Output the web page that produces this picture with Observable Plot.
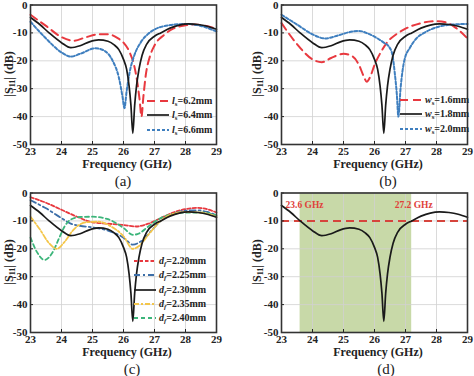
<!DOCTYPE html>
<html><head><meta charset="utf-8">
<script src="https://cdn.jsdelivr.net/npm/d3@7"></script>
<script src="https://cdn.jsdelivr.net/npm/@observablehq/plot@0.6"></script>
<style>
body{margin:0;background:#fff}
#wrap{position:relative;width:474px;height:376px;overflow:hidden;font-family:"Liberation Serif","Times New Roman",serif;color:#222}
.abs{position:absolute;white-space:nowrap;line-height:1}
.c{transform:translate(-50%,-50%)}
.yl{transform:translate(-50%,-50%) rotate(-90deg);font-weight:bold;font-size:12px}
.xl{font-weight:bold;font-size:12px}
.let{font-size:15px}
.leg{font-weight:bold;font-size:10px;display:flex;align-items:center;height:14px}
.leg svg{display:block;margin-right:3px}
sub{font-size:0.68em;vertical-align:-0.25em;line-height:0}
</style></head>
<body><div id="wrap"></div>
<script>
// axis ticks
const freqTicks = [23, 24, 25, 26, 27, 28, 29];
const dbTicks = [0, -10, -20, -30, -40, -50];

// reference curve (ls=6.4mm, ws=1.8mm, df=2.30mm, panel d)
const baseF = [23, 23.3, 23.6, 24, 24.3, 24.6, 24.9, 25.2, 25.5, 25.7, 25.85, 26.0, 26.1, 26.18, 26.24, 26.3, 26.36, 26.42, 26.5, 26.6, 26.75, 27.0, 27.2, 27.5, 27.8, 28.1, 28.4, 28.7, 29];
const baseS = [-4.5, -7, -10, -13.5, -15.3, -14.6, -13.2, -12.5, -13, -14.3, -16, -19.5, -23, -29, -36, -46, -36, -29, -23, -18, -14, -11.2, -10, -8.3, -7.2, -6.8, -7, -7.6, -8.7];

// (a) ls = 6.2 mm
const ls62F = [23, 23.5, 24, 24.4, 24.8, 25.2, 25.5, 25.8, 26.0, 26.2, 26.35, 26.45, 26.52, 26.58, 26.64, 26.72, 26.85, 27.0, 27.3, 27.6, 28, 28.3, 28.6, 29];
const ls62S = [-3.5, -7.5, -11.5, -12.8, -11.5, -10.5, -10.5, -11.8, -13.5, -17, -22, -28, -34, -40, -33, -25, -18.5, -14.5, -10.8, -8.5, -7.3, -7, -7.4, -8.5];
// (a) ls = 6.6 mm
const ls66F = [23, 23.5, 24, 24.3, 24.6, 25.1, 25.4, 25.65, 25.85, 25.97, 26.03, 26.1, 26.2, 26.35, 26.55, 26.8, 27.0, 27.5, 28, 28.5, 29];
const ls66S = [-6, -12, -17, -18.5, -17.5, -15.5, -16.5, -20, -26, -33, -37, -31, -24, -18, -13.5, -10.3, -8.8, -7.2, -6.8, -7.5, -9.5];

// (b) ws = 1.6 mm
const ws16F = [23, 23.5, 24, 24.3, 24.6, 25.0, 25.3, 25.5, 25.65, 25.75, 25.85, 26.0, 26.2, 26.4, 26.7, 27.0, 27.5, 28.0, 28.3, 28.6, 29];
const ws16S = [-6.5, -14, -19.5, -20.5, -19, -17.5, -18.5, -21.5, -25.5, -27.5, -26, -21.5, -17, -13.5, -10.5, -8.5, -6.5, -5.8, -6.2, -8, -12];
// (b) ws = 2.0 mm
const ws20F = [23, 23.5, 24, 24.4, 24.8, 25.2, 25.5, 25.8, 26.1, 26.3, 26.47, 26.58, 26.65, 26.72, 26.77, 26.84, 26.96, 27.16, 27.35, 27.6, 28, 28.5, 29];
const ws20S = [-3.5, -7, -10.5, -12, -11, -9.7, -9.3, -10.3, -12, -13.5, -15, -18, -24, -32, -40, -30, -20, -15, -12, -10, -8, -7, -6.8];

// (c) df = 2.20 mm
const df220F = [23, 23.5, 24, 24.5, 25, 25.5, 26, 26.4, 26.8, 27.2, 27.6, 28, 28.4, 28.7, 29];
const df220S = [-1.5, -3.5, -6, -8.5, -10.5, -11, -11.5, -12, -11, -9, -7, -5.8, -5.3, -5.8, -7];
// (c) df = 2.25 mm
const df225F = [23, 23.5, 24, 24.3, 24.6, 25, 25.5, 26, 26.3, 26.6, 26.9, 27.2, 27.6, 28, 28.4, 28.7, 29];
const df225S = [-2.6, -5.5, -9, -11, -11.8, -12.3, -13.5, -16, -18.5, -17, -13.5, -10, -7.5, -6.3, -6.2, -6.8, -8];
// (c) df = 2.35 mm
const df235F = [23, 23.3, 23.6, 23.85, 24.1, 24.4, 24.8, 25.2, 25.6, 26, 26.3, 26.5, 26.8, 27.2, 27.6, 28, 28.5, 29];
const df235S = [-8.5, -13, -18, -20, -17.5, -13, -10.5, -10.3, -12, -15.5, -20, -19, -15, -10, -7.5, -6.8, -7, -8.5];
// (c) df = 2.40 mm
const df240F = [23, 23.2, 23.45, 23.7, 23.93, 24.1, 24.3, 24.6, 25.0, 25.5, 26.0, 26.3, 26.5, 26.8, 27.2, 27.6, 28, 28.5, 29];
const df240S = [-16, -21, -24, -21.5, -16, -12, -9.5, -8.6, -8.5, -9.4, -12.5, -15, -14.5, -12, -9, -7.5, -7, -7, -8];

// (d) band and threshold
const bandEdges = [23.6, 27.2];
const threshold = [-10];

// legend labels
const lsLabels = ["6.2mm", "6.4mm", "6.6mm"];
const wsLabels = ["1.6mm", "1.8mm", "2.0mm"];
const dfLabels = ["2.20mm", "2.25mm", "2.30mm", "2.35mm", "2.40mm"];

const zip = (F, S) => F.map((f, i) => ({f, s: S[i]}));
const RED = "#e8393f", BLUE = "#3f7fbf", BLACK = "#1a1a1a";

const st = {
  red: {stroke: RED, w: 2, dash: "8,5"},
  black: {stroke: BLACK, w: 1.7, dash: null},
  blueDot: {stroke: BLUE, w: 2, dash: "3,2"},
  redShort: {stroke: RED, w: 1.8, dash: "3.5,2"},
  blueDD: {stroke: "#3c6ea8", w: 1.8, dash: "6,3,2,3"},
  yellowDD: {stroke: "#f4c64a", w: 1.8, dash: "5,2,2,2"},
  green: {stroke: "#3cb57a", w: 1.8, dash: "4,3"}
};

const panels = [
  {left: 0, top: 0, mL: 30, mR: 21, letter: "(a)", ylx: 8.5, xlx: 127, letx: 123,
   series: [[ls62F, ls62S, st.red], [ls66F, ls66S, st.blueDot], [baseF, baseS, st.black]],
   legend: {x: 147, y0: 94, sym: "l", sub: "s", labels: lsLabels, styles: [st.red, st.black, st.blueDot]}},
  {left: 237, top: 0, mL: 44, mR: 7, letter: "(b)", ylx: 20, xlx: 141, letx: 151,
   series: [[ws16F, ws16S, st.red], [ws20F, ws20S, st.blueDot], [baseF, baseS, st.black]],
   legend: {x: 163, y0: 93, sym: "w", sub: "s", labels: wsLabels, styles: [st.red, st.black, st.blueDot]}},
  {left: 0, top: 188, mL: 30, mR: 21, letter: "(c)", ylx: 8.5, xlx: 127, letx: 132,
   series: [[df220F, df220S, st.redShort], [df225F, df225S, st.blueDD], [df240F, df240S, st.green], [df235F, df235S, st.yellowDD], [baseF, baseS, st.black]],
   legend: {x: 134, y0: 66, sym: "d", sub: "f", subItalic: true, labels: dfLabels, styles: [st.redShort, st.blueDD, st.black, st.yellowDD, st.green]}},
  {left: 237, top: 188, mL: 44, mR: 7, letter: "(d)", ylx: 20, xlx: 141, letx: 149, band: true,
   series: [[baseF, baseS, st.black]]}
];

const wrap = document.getElementById("wrap");
function addDiv(cls, x, y, html) {
  const d = document.createElement("div");
  d.className = "abs " + cls;
  d.style.left = x + "px"; d.style.top = y + "px";
  d.innerHTML = html;
  wrap.appendChild(d);
  return d;
}

for (const p of panels) {
  const marks = [];
  if (p.band) {
    marks.push(Plot.rect([bandEdges], {x1: d => d[0], x2: d => d[1], y1: dbTicks[dbTicks.length - 1], y2: dbTicks[0], fill: "#c8d9a8"}));
  }
  marks.push(Plot.gridX(freqTicks, {stroke: "#d0d0d0", strokeOpacity: 1, strokeWidth: 0.8}));
  marks.push(Plot.gridY(dbTicks, {stroke: "#d0d0d0", strokeOpacity: 1, strokeWidth: 0.8}));
  if (p.band) {
    marks.push(Plot.ruleY(threshold, {stroke: "#d6443c", strokeWidth: 2, strokeDasharray: "8,5"}));
  }
  for (const [F, S, s] of p.series) {
    marks.push(Plot.line(zip(F, S), {x: "f", y: "s", stroke: s.stroke, strokeWidth: s.w, strokeDasharray: s.dash, curve: "monotone-x"}));
  }
  if (p.band) {
    marks.push(Plot.text(bandEdges.slice(0, 1), {frameAnchor: "top-left", dx: 4, dy: 8, text: d => `${d} GHz`, fill: "#e0403a", fontWeight: "bold", fontSize: 9.5}));
    marks.push(Plot.text(bandEdges.slice(1), {x: d => d, frameAnchor: "top", dx: 2, dy: 8, text: d => `${d} GHz`, fill: "#e0403a", fontWeight: "bold", fontSize: 9.5}));
  }
  marks.push(Plot.axisX(freqTicks, {tickSize: -3, tickPadding: 6, label: null, tickFormat: d => String(d)}));
  marks.push(Plot.axisY(dbTicks, {tickSize: -3, tickPadding: 6, label: null, tickFormat: d => String(d)}));
  marks.push(Plot.frame({stroke: "#333", strokeWidth: 1.6}));

  const svg = Plot.plot({
    width: 237, height: 188,
    marginLeft: p.mL, marginRight: p.mR, marginTop: 4.5, marginBottom: 44,
    x: {domain: [freqTicks[0], freqTicks[freqTicks.length - 1]]},
    y: {domain: [dbTicks[dbTicks.length - 1], dbTicks[0]]},
    style: {fontFamily: "'Liberation Serif', 'Times New Roman', serif", fontSize: "11px", fontWeight: "bold", color: "#222", background: "transparent", overflow: "visible"},
    marks
  });
  svg.style.position = "absolute";
  svg.style.left = p.left + "px";
  svg.style.top = p.top + "px";
  wrap.appendChild(svg);

  addDiv("yl", p.left + p.ylx, p.top + 74, "|S<sub>11</sub>| (dB)");
  addDiv("xl c", p.left + p.xlx, p.top + 163.5, "Frequency (GHz)");
  addDiv("let c", p.left + p.letx, p.top + 180.5, p.letter);

  if (p.legend) {
    const L = p.legend;
    L.labels.forEach((lab, i) => {
      const s = L.styles[i];
      const sub = L.subItalic ? `<i>${L.sub}</i>` : L.sub;
      const html = `<svg width="22" height="6"><line x1="0" x2="22" y1="3" y2="3" stroke="${s.stroke}" stroke-width="${s.w}" ${s.dash ? `stroke-dasharray="${s.dash}"` : ""}/></svg><span><i>${L.sym}</i><sub>${sub}</sub>=${lab}</span>`;
      addDiv("leg", p.left + L.x, p.top + L.y0 + i * 14.3, html);
    });
  }
}
</script></body></html>
